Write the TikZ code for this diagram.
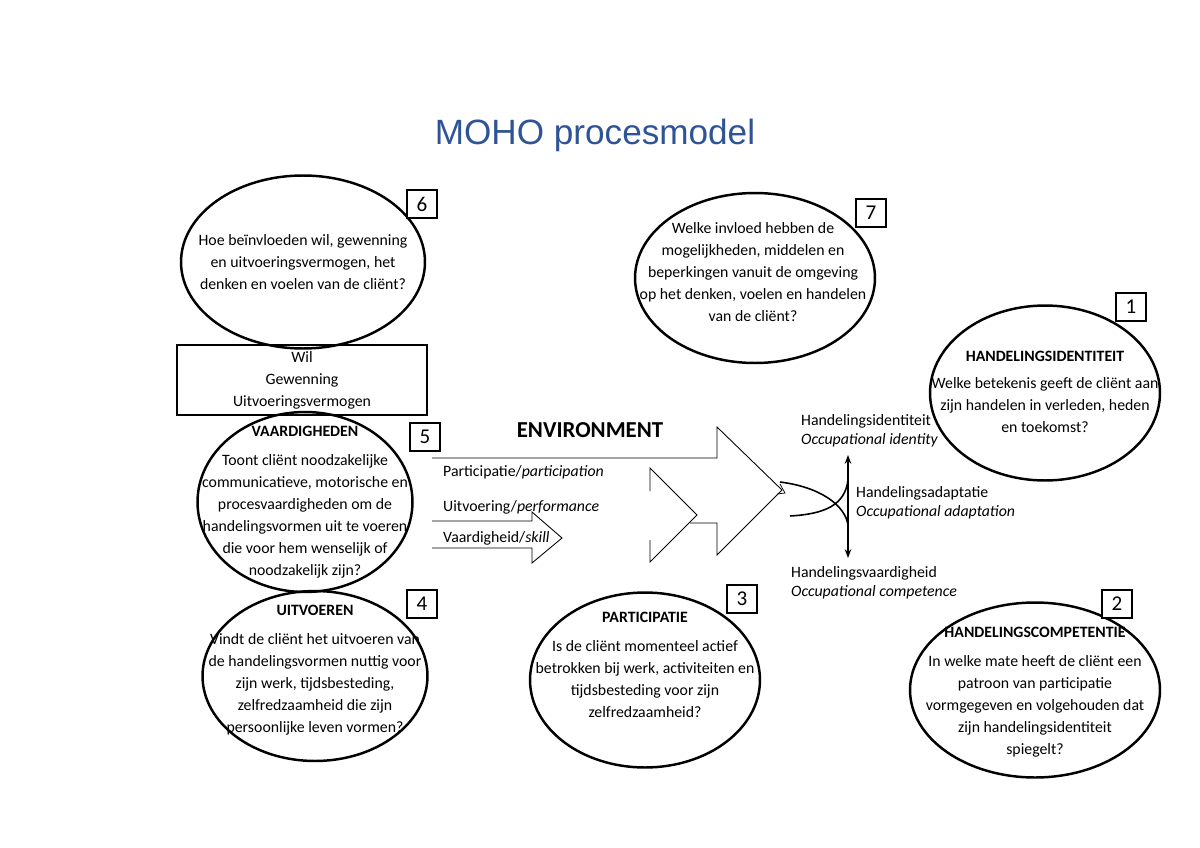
\documentclass[tikz,border=0pt]{standalone}
\usepackage{fontspec}
\setmainfont{Carlito}
\newfontfamily\titlef{Liberation Sans}
\usetikzlibrary{shapes.geometric,arrows.meta}
\definecolor{titleblue}{RGB}{47,84,150}
\begin{document}
\begin{tikzpicture}[x=0.02cm,y=-0.02cm,
  ell/.style={ellipse,draw,line width=1.4pt,minimum width=#1},
  q/.style={align=center,font=\fontsize{9}{12.5}\selectfont},
  num/.style={draw,fill=white,line width=1pt,minimum width=0.6cm,minimum height=0.56cm,font=\fontsize{12}{13}\selectfont,inner sep=0pt},
  lab/.style={align=left,font=\fontsize{9}{10.5}\selectfont,anchor=west}]
\useasboundingbox (0,0) rectangle (1200,848);
\node[font=\titlef\fontsize{20}{24}\selectfont,text=titleblue] (title) at (595,135) {MOHO procesmodel};

\node[ell,minimum width=4.88cm,minimum height=3.46cm] (e6) at (303,262) {};
\node[q] (t6) at (303,262) {Hoe beïnvloeden wil, gewenning\\en uitvoeringsvermogen, het\\denken en voelen van de cliënt?};
\node[num] (n6) at (422,204) {6};

\node[ell,minimum width=4.8cm,minimum height=3.4cm] (e7) at (755,278) {};
\node[q] (t7) at (753,272) {Welke invloed hebben de\\mogelijkheden, middelen en\\beperkingen vanuit de omgeving\\op het denken, voelen en handelen\\van de cliënt?};
\node[num] (n7) at (871,213) {7};

\node[ell,minimum width=4.6cm,minimum height=3.5cm] (e1) at (1045,393) {};
\node[q] (t1) at (1045,392) {\textbf{HANDELINGSIDENTITEIT}\\[3pt]Welke betekenis geeft de cliënt aan\\zijn handelen in verleden, heden\\en toekomst?};
\node[num] (n1) at (1131,307) {1};

\node[draw,line width=1pt,minimum width=5cm,minimum height=1.28cm,q] (wil) at (302,380) {Wil\\Gewenning\\Uitvoeringsvermogen};

\node[ell,minimum width=4.3cm,minimum height=3.6cm] (e5) at (305,502) {};
\node[q] (t5) at (305,502) {\textbf{VAARDIGHEDEN}\\[4pt]Toont cliënt noodzakelijke\\communicatieve, motorische en\\procesvaardigheden om de\\handelingsvormen uit te voeren\\die voor hem wenselijk of\\noodzakelijk zijn?};
\node[num] (n5) at (425,437) {5};

\node[ell,minimum width=4.5cm,minimum height=3.4cm] (e4) at (315,676) {};
\node[q] (t4) at (315,670) {\textbf{UITVOEREN}\\[4pt]Vindt de cliënt het uitvoeren van\\de handelingsvormen nuttig voor\\zijn werk, tijdsbesteding,\\zelfredzaamheid die zijn\\persoonlijke leven vormen?};
\node[num] (n4) at (422,604) {4};

\node[ell,minimum width=4.6cm,minimum height=3.5cm] (e3) at (645,680) {};
\node[q] (t3) at (645,665) {\textbf{PARTICIPATIE}\\[4pt]Is de cliënt momenteel actief\\betrokken bij werk, activiteiten en\\tijdsbesteding voor zijn\\zelfredzaamheid?};
\node[num] (n3) at (742,599) {3};

\node[ell,minimum width=5cm,minimum height=3.5cm] (e2) at (1035,690) {};
\node[q] (t2) at (1035,692) {\textbf{HANDELINGSCOMPETENTIE}\\[4pt]In welke mate heeft de cliënt een\\patroon van participatie\\vormgegeven en volgehouden dat\\zijn handelingsidentiteit\\spiegelt?};
\node[num] (n2) at (1117,604) {2};

% environment arrow
\node[font=\bfseries\fontsize{13}{15}\selectfont] (env) at (590,430) {ENVIRONMENT};
\coordinate (a1) at (432,458); \coordinate (a2) at (717,458); \coordinate (a3) at (717,427);
\coordinate (a4) at (782,490); \coordinate (a5) at (717,555); \coordinate (a6) at (717,523);
\coordinate (a7) at (690,523);
\coordinate (b1) at (650,468); \coordinate (b2) at (650,491); \coordinate (b3) at (697,515);
\coordinate (b4) at (650,562); \coordinate (b5) at (650,540);
\draw[line width=0.5pt] (a1) -- (a2) -- (a3) -- (a4) -- (a5) -- (a6) -- (a7);
\draw[line width=0.5pt] (b2) -- (b1) -- (b3) -- (b4) -- (b5);
\draw[line width=0.4pt] (780,484) -- (785,493) -- (777,494);
% skill arrow
\coordinate (s1) at (432,521); \coordinate (s2) at (532,521); \coordinate (s3) at (532,512);
\coordinate (s4) at (562,538); \coordinate (s5) at (532,563); \coordinate (s6) at (532,548);
\coordinate (s7) at (432,548);
\draw[line width=0.5pt] (s1) -- (s2) -- (s3) -- (s4) -- (s5) -- (s6) -- (s7);
\node[lab] (lp) at (437,472) {Participatie/\textit{participation}};
\node[lab] (lu) at (437,507) {Uitvoering/\textit{performance}};
\node[lab] (lv) at (437,538) {Vaardigheid/\textit{skill}};

% outcome
\coordinate (vtop) at (848,455); \coordinate (vbot) at (848,558);
\draw[-{Stealth[length=5pt]},line width=0.7pt] (848,492) -- (vtop);
\draw[-{Stealth[length=5pt]},line width=0.7pt] (848,492) -- (vbot);
\draw[line width=0.9pt] (780,482) .. controls (820,487) and (845,505) .. (848,525);
\draw[line width=0.9pt] (790,516) .. controls (825,514) and (845,505) .. (848,480);
\node[lab] (li) at (795,431) {Handelingsidentiteit\\\textit{Occupational identity}};
\node[lab] (la) at (850,503) {Handelingsadaptatie\\\textit{Occupational adaptation}};
\node[lab] (lc) at (785,583) {Handelingsvaardigheid\\\textit{Occupational competence}};
\end{tikzpicture}
\end{document}
